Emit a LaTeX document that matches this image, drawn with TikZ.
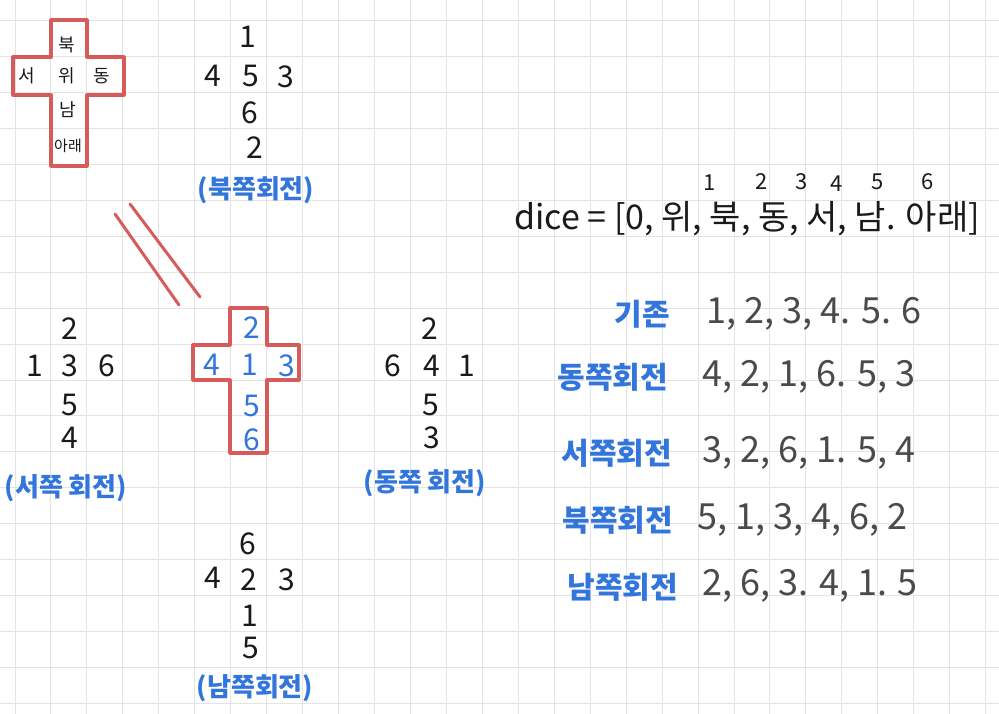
\documentclass[tikz,border=0pt]{standalone}
\usepackage{fontspec}
\setmainfont{Noto Sans CJK KR}
\definecolor{gridc}{HTML}{E4E4E4}
\definecolor{redc}{HTML}{D65B5B}
\definecolor{bluec}{HTML}{3276DC}
\definecolor{inkc}{HTML}{1A1A1A}
\definecolor{grayc}{HTML}{4A4A4A}
\tikzset{
  num/.style={font=\fontsize{30}{32}\selectfont, text=inkc, inner sep=0pt},
  bnum/.style={num, text=bluec},
  kor/.style={font=\fontsize{18}{20}\selectfont, text=inkc, inner sep=0pt},
  capt/.style={font=\bfseries\fontsize{26}{28}\selectfont, text=bluec, inner sep=0pt},
  rowlbl/.style={font=\bfseries\fontsize{30}{32}\selectfont, text=bluec, inner sep=0pt, anchor=east},
  rowval/.style={font=\fontsize{36}{38}\selectfont, text=grayc, inner sep=0pt, anchor=west},
  hdr/.style={font=\fontsize{22}{24}\selectfont, text=inkc, inner sep=0pt},
  crossline/.style={draw=redc, line width=3.2pt, line join=round},
  stroke/.style={draw=redc, line width=3pt, line cap=round}
}
\begin{document}
\begin{tikzpicture}[x=1pt,y=-1pt]
\fill[white] (0,0) rectangle (999,714);
\useasboundingbox (0,0) rectangle (999,714);
% grid
\draw[gridc, line width=1pt] \foreach \k in {0,...,27} { ({15+35.95*\k},0) -- ({15+35.95*\k},714) };
\draw[gridc, line width=1pt] \foreach \k in {0,...,19} { (0,{20.5+35.95*\k}) -- (999,{20.5+35.95*\k}) };

% top cross (directions)
\draw[crossline] (51,20) -- (87,20) -- (87,57) -- (124,57) -- (124,95) -- (87,95) -- (87,166) -- (51,166) -- (51,95) -- (13,95) -- (13,57) -- (51,57) -- cycle;
\node[kor] (cN) at (67,45) {북};
\node[kor] (cW) at (27,76) {서};
\node[kor] (cU) at (67,76) {위};
\node[kor] (cE) at (102,76) {동};
\node[kor] (cS) at (68,110) {남};
\node[kor, font=\fontsize{15}{17}\selectfont] (cD) at (68,146) {아래};

% north rotation
\node[num] (n1) at (248,37) {1};
\node[num] (n4) at (213,76) {4};
\node[num] (n5) at (251,76) {5};
\node[num] (n3) at (286,77) {3};
\node[num] (n6) at (250,113) {6};
\node[num] (n2) at (255,148) {2};
\node[capt] (nlab) at (256,190) {(북쪽회전)};

% double stroke
\coordinate (a1) at (115,214);
\coordinate (a2) at (179,305);
\coordinate (b1) at (130,204);
\coordinate (b2) at (200,297);
\draw[stroke] (a1) -- (a2);
\draw[stroke] (b1) -- (b2);

% center cross
\draw[crossline] (230,308) -- (267,308) -- (267,345) -- (299,345) -- (299,380) -- (267,380) -- (267,453) -- (230,453) -- (230,380) -- (193,380) -- (193,345) -- (230,345) -- cycle;
\node[bnum] (m2) at (252,328) {2};
\node[bnum] (m4) at (212,365) {4};
\node[bnum] (m1) at (250,365) {1};
\node[bnum] (m3) at (287,366) {3};
\node[bnum] (m5) at (252,406) {5};
\node[bnum] (m6) at (252,440) {6};

% west rotation
\node[num] (w2) at (70,329) {2};
\node[num] (w1) at (35,366) {1};
\node[num] (w3) at (70,366) {3};
\node[num] (w6) at (107,366) {6};
\node[num] (w5) at (70,405) {5};
\node[num] (w4) at (70,438) {4};
\node[capt] (wlab) at (66,488) {(서쪽 회전)};

% east rotation
\node[num] (e2) at (430,329) {2};
\node[num] (e6) at (393,366) {6};
\node[num] (e4) at (432,366) {4};
\node[num] (e1) at (467,366) {1};
\node[num] (e5) at (431,405) {5};
\node[num] (e3) at (432,438) {3};
\node[capt] (elab) at (425,483) {(동쪽 회전)};

% south rotation
\node[num] (s6) at (248,544) {6};
\node[num] (s4) at (213,578) {4};
\node[num] (s2) at (249,580) {2};
\node[num] (s3) at (287,580) {3};
\node[num] (s1) at (250,616) {1};
\node[num] (s5) at (251,648) {5};
\node[capt] (slab) at (255,688) {(남쪽회전)};

% dice header
\node[hdr] (h1) at (710,183) {1};
\node[hdr] (h2) at (762,182) {2};
\node[hdr] (h3) at (802,182) {3};
\node[hdr] (h4) at (837,184) {4};
\node[hdr] (h5) at (878,182) {5};
\node[hdr] (h6) at (928,182) {6};
\node[font=\fontsize{34}{36}\selectfont, text=inkc, inner sep=0pt] (dice) at (747,219) {dice = [0, 위, 북, 동, 서, 남. 아래]};

% table
\node[rowlbl] (l0) at (670,314) {기존};
\node[rowval] (v0) at (706,314) {1, 2, 3, 4. 5. 6};
\node[rowlbl] (l1) at (668,377) {동쪽회전};
\node[rowval] (v1) at (702,377) {4, 2, 1, 6. 5, 3};
\node[rowlbl] (l2) at (672,453) {서쪽회전};
\node[rowval] (v2) at (702,453) {3, 2, 6, 1. 5, 4};
\node[rowlbl] (l3) at (673,520) {북쪽회전};
\node[rowval] (v3) at (697,520) {5, 1, 3, 4, 6, 2};
\node[rowlbl] (l4) at (678,587) {남쪽회전};
\node[rowval] (v4) at (702,586) {2, 6, 3. 4, 1. 5};
\end{tikzpicture}
\end{document}
